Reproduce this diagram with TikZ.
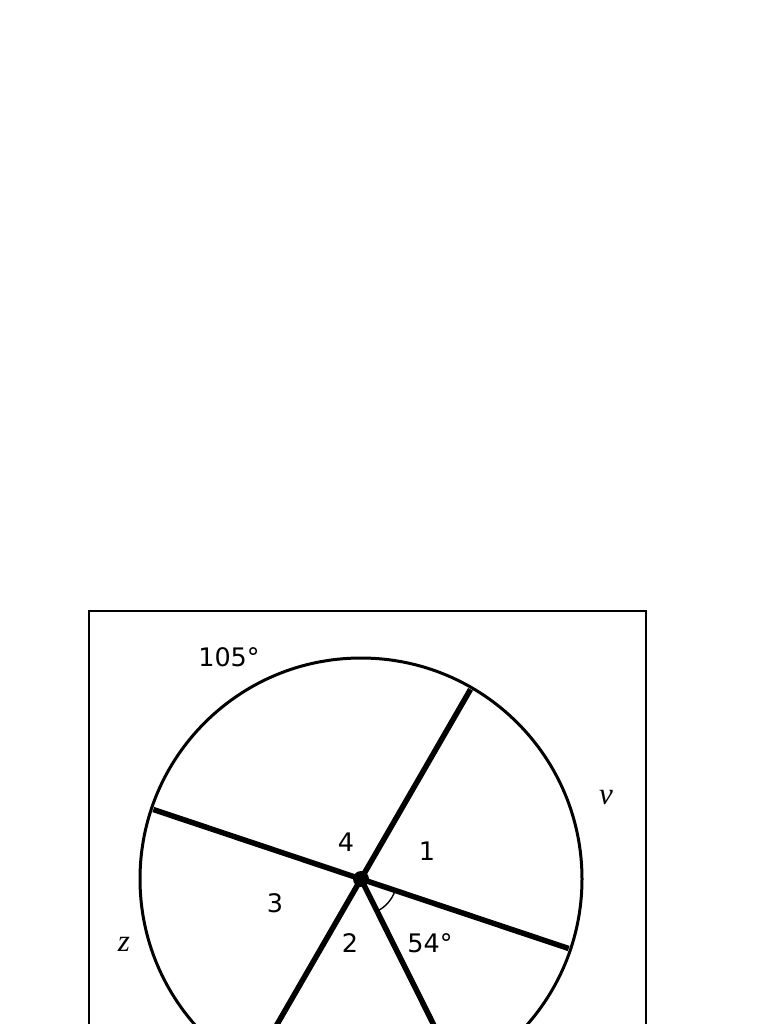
\documentclass[tikz,border=0pt]{standalone}
\usepackage{fontspec}
\setmainfont{DejaVu Sans}
\newfontfamily\varfont{Liberation Serif}
\usetikzlibrary{positioning}

\tikzset{
  chord/.style={line width=5.5pt},
  rim/.style={line width=3pt},
  lbl/.style={font=\fontsize{25.5}{28}\selectfont, inner sep=0pt},
  var/.style={lbl, font=\varfont\itshape\fontsize{31}{34}\selectfont},
}

\begin{document}
\begin{tikzpicture}[x=1pt, y=-1pt]
      \useasboundingbox (0,0) rectangle (768,1024);
      \clip (0,0) rectangle (768,1024);
      \draw [line width=2.4pt] (89,1120) -- (89,611) -- (646,611) -- (646,1120);
      \coordinate (c) at (361,879);
      \draw [rim] (c) circle (221pt);
      \path (c) ++(60:219pt) coordinate (ur)
            (c) ++(161.5:219pt) coordinate (l)
            (c) ++(-18.5:219pt) coordinate (r)
            (c) ++(240:219pt) coordinate (ll)
            (c) ++(-63.5:219pt) coordinate (lr);
      \draw [chord] (ur) -- (ll);
      \draw [chord] (l) -- (r);
      \draw [chord] (c) -- (lr);
      \fill (c) circle (8pt);
      \draw [line width=1.4pt] (c) ++(-18.5:36pt) arc (-18.5:-63.5:36pt);
      \node [lbl] (deg105) at (229,657) {105°};
      \node [var] (v) at (606,798) {v};
      \node [var] (z) at (124,944) {z};
      \node [lbl] (n4) at (346,842) {4};
      \node [lbl] (n1) at (427,851) {1};
      \node [lbl] (n3) at (275,903) {3};
      \node [lbl] (n2) at (350,943) {2};
      \node [lbl] (deg54) at (430,943) {54°};
\end{tikzpicture}
\end{document}
